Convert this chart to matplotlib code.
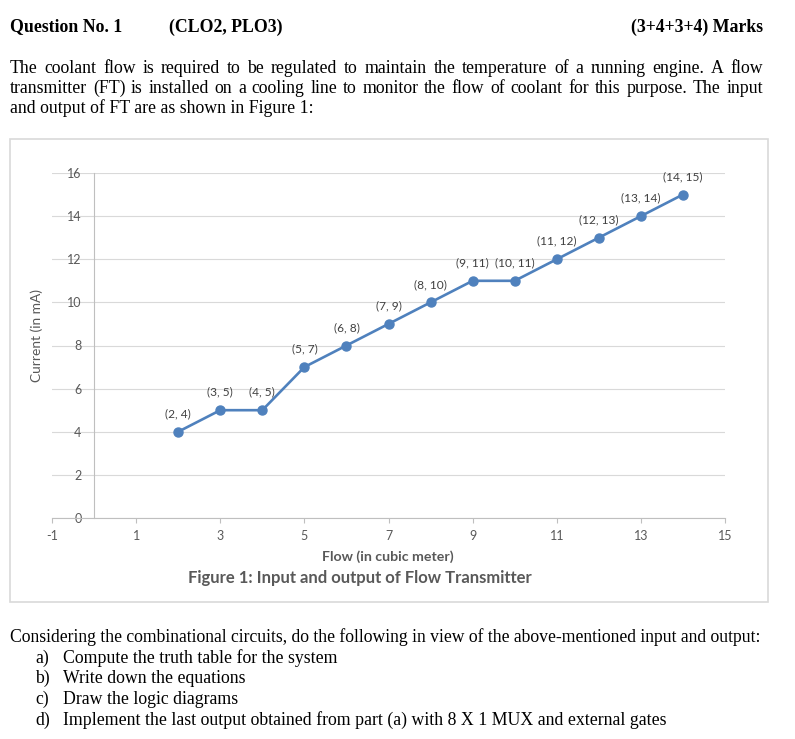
import matplotlib
matplotlib.use("Agg")
import matplotlib.pyplot as plt
from matplotlib.patches import Rectangle

# chart data
flow = [2, 3, 4, 5, 6, 7, 8, 9, 10, 11, 12, 13, 14]
current = [4, 5, 5, 7, 8, 9, 10, 11, 11, 12, 13, 14, 15]
x_ticks = [-1, 1, 3, 5, 7, 9, 11, 13, 15]
y_ticks = [0, 2, 4, 6, 8, 10, 12, 14, 16]

# document text
header_left = "Question No. 1"
header_mid = "(CLO2, PLO3)"
header_right = "(3+4+3+4) Marks"
para = ["The coolant flow is required to be regulated to maintain the temperature of a running engine. A flow",
        "transmitter (FT) is installed on a cooling line to monitor the flow of coolant for this purpose. The input",
        "and output of FT are as shown in Figure 1:"]
question = "Considering the combinational circuits, do the following in view of the above-mentioned input and output:"
items = [("a)", "Compute the truth table for the system"),
         ("b)", "Write down the equations"),
         ("c)", "Draw the logic diagrams"),
         ("d)", "Implement the last output obtained from part (a) with 8 X 1 MUX and external gates")]

plt.rcParams["axes.unicode_minus"] = False

W, H = 795, 739
SERIF = ["Liberation Serif", "DejaVu Serif"]
SANS = ["Lato", "DejaVu Sans"]
BODY = 12.75

fig = plt.figure(figsize=(W / 100, H / 100), dpi=100)
fig.patch.set_facecolor("white")


def fx(px):
    return px / W


def fy(py):
    return 1 - py / H


def justify(line, y, x0=10, x1=763, size=BODY):
    words = line.split()
    texts = [fig.text(0, fy(y), w, fontsize=size, family=SERIF, va="baseline") for w in words]
    r = fig.canvas.get_renderer()
    widths = [t.get_window_extent(r).width for t in texts]
    gap = (x1 - x0 - sum(widths)) / (len(words) - 1)
    x = x0
    for t, w in zip(texts, widths):
        t.set_x(fx(x))
        x += w + gap


# header
fig.text(fx(10), fy(31.5), header_left, fontsize=BODY, family=SERIF, weight="bold", va="baseline")
fig.text(fx(169), fy(31.5), header_mid, fontsize=BODY, family=SERIF, weight="bold", va="baseline")
fig.text(fx(763), fy(31.5), header_right, fontsize=BODY, family=SERIF, weight="bold", va="baseline", ha="right")

justify(para[0], 73.3)
justify(para[1], 93.3)
fig.text(fx(10), fy(113.3), para[2], fontsize=BODY, family=SERIF, va="baseline")

# chart frame
fig.patches.append(Rectangle((fx(10), fy(602)), fx(758), (602 - 139) / H, transform=fig.transFigure,
                             facecolor="none", edgecolor="#d9d9d9", lw=1.2))

ax = fig.add_axes([fx(52), fy(518), fx(725) - fx(52), (518 - 173) / H])
ax.set_xlim(-1, 15)
ax.set_ylim(0, 16)
ax.plot(flow, current, color="#4f81bd", lw=1.9, marker="o", ms=6.5, zorder=3, clip_on=False)
for x, y in zip(flow, current):
    ax.annotate("({}, {})".format(x, y), (x, y), xytext=(0, 9), textcoords="offset points",
                ha="center", va="bottom", fontsize=8.6, family=SANS, color="#404040")

ax.set_xticks(x_ticks)
ax.set_yticks(y_ticks)
ax.grid(axis="y", color="#d9d9d9", lw=0.8)
ax.set_axisbelow(True)
for s in ["top", "right"]:
    ax.spines[s].set_visible(False)
ax.spines["left"].set_position(("data", 0))
ax.spines["left"].set_color("#bfbfbf")
ax.spines["bottom"].set_color("#bfbfbf")
ax.tick_params(axis="y", length=0, pad=9, labelsize=9, labelcolor="#595959")
ax.tick_params(axis="x", length=3.5, color="#bfbfbf", pad=5, labelsize=9, labelcolor="#595959")
for lab in ax.get_xticklabels() + ax.get_yticklabels():
    lab.set_family(SANS)

fig.text(fx(388), fy(557), "Flow (in cubic meter)", fontsize=10.2, family=SANS, weight="bold",
         color="#595959", ha="center", va="center")
fig.text(fx(360), fy(578), "Figure 1: Input and output of Flow Transmitter", fontsize=12, family=SANS,
         weight="bold", color="#595959", ha="center", va="center")
fig.text(fx(37), fy(335), "Current (in mA)", fontsize=9.9, family=SANS, color="#595959",
         rotation=90, ha="center", va="center")

# question text
fig.text(fx(10), fy(641.7), question, fontsize=12.68, family=SERIF, va="baseline")
for i, (lab, txt) in enumerate(items):
    y = 662.7 + 20.6 * i
    fig.text(fx(35), fy(y), lab, fontsize=BODY, family=SERIF, va="baseline")
    fig.text(fx(63), fy(y), txt, fontsize=BODY, family=SERIF, va="baseline")

fig.savefig("out.png", dpi=100)
